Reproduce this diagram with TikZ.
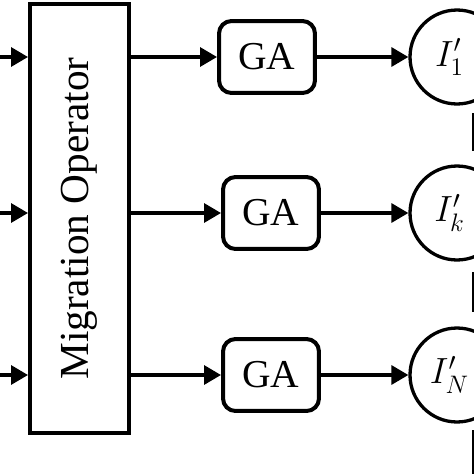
\documentclass[tikz,border=0pt]{standalone}
\usepackage{amsmath}
\usepackage{fontspec}
\setmainfont{Liberation Serif}
\usetikzlibrary{arrows.meta}

\begin{document}
\begin{tikzpicture}[x=0.02cm, y=-0.02cm, line width=0.066cm,
    block/.style={draw, rectangle, line width=0.08cm, inner sep=0pt},
    gabox/.style={draw, rectangle, rounded corners=0.25cm, line width=0.08cm,
        minimum width=1.92cm, minimum height=1.44cm, inner sep=0pt,
        font=\fontsize{22.5}{26}\selectfont},
    island/.style={draw, circle, minimum size=1.88cm, inner sep=0pt,
        font=\fontsize{22}{26}\selectfont},
    link/.style={-{Triangle[length=0.34cm, width=0.38cm]}}]

    \useasboundingbox (0,0) rectangle (474,474);

    % Migration operator block (text runs bottom to top)
    \node[block, rotate=90, minimum width=8.58cm, minimum height=1.98cm,
        font=\fontsize{23.5}{28}\selectfont] (mig) at (79.5,218.5) {Migration Operator};

    % One row per island: input, GA, island population
    \foreach \y/\gx/\lab [count=\n] in {57/267/1, 213/271/k, 375/271/N} {
        \coordinate (in\n) at (0,\y);
        \node[gabox] (ga\n) at (\gx,\y) {GA};
        \node[island] (isl\n) at (457,\y) {$I'_{\lab}\hspace{0.3cm}$};

        \draw[link] (in\n) -- (in\n -| mig.north);
        \draw[link] (ga\n.west -| mig.south) -- (ga\n.west);
        \draw[link] (ga\n) -- (isl\n);
    }

    % Cut-off arrows at the right edge
    \draw[line width=0.1cm] (474,113) -- (474,151);
    \draw[line width=0.1cm] (474,272) -- (474,312);
    \draw[line width=0.1cm] (474,430) -- (474,474);

\end{tikzpicture}
\end{document}
